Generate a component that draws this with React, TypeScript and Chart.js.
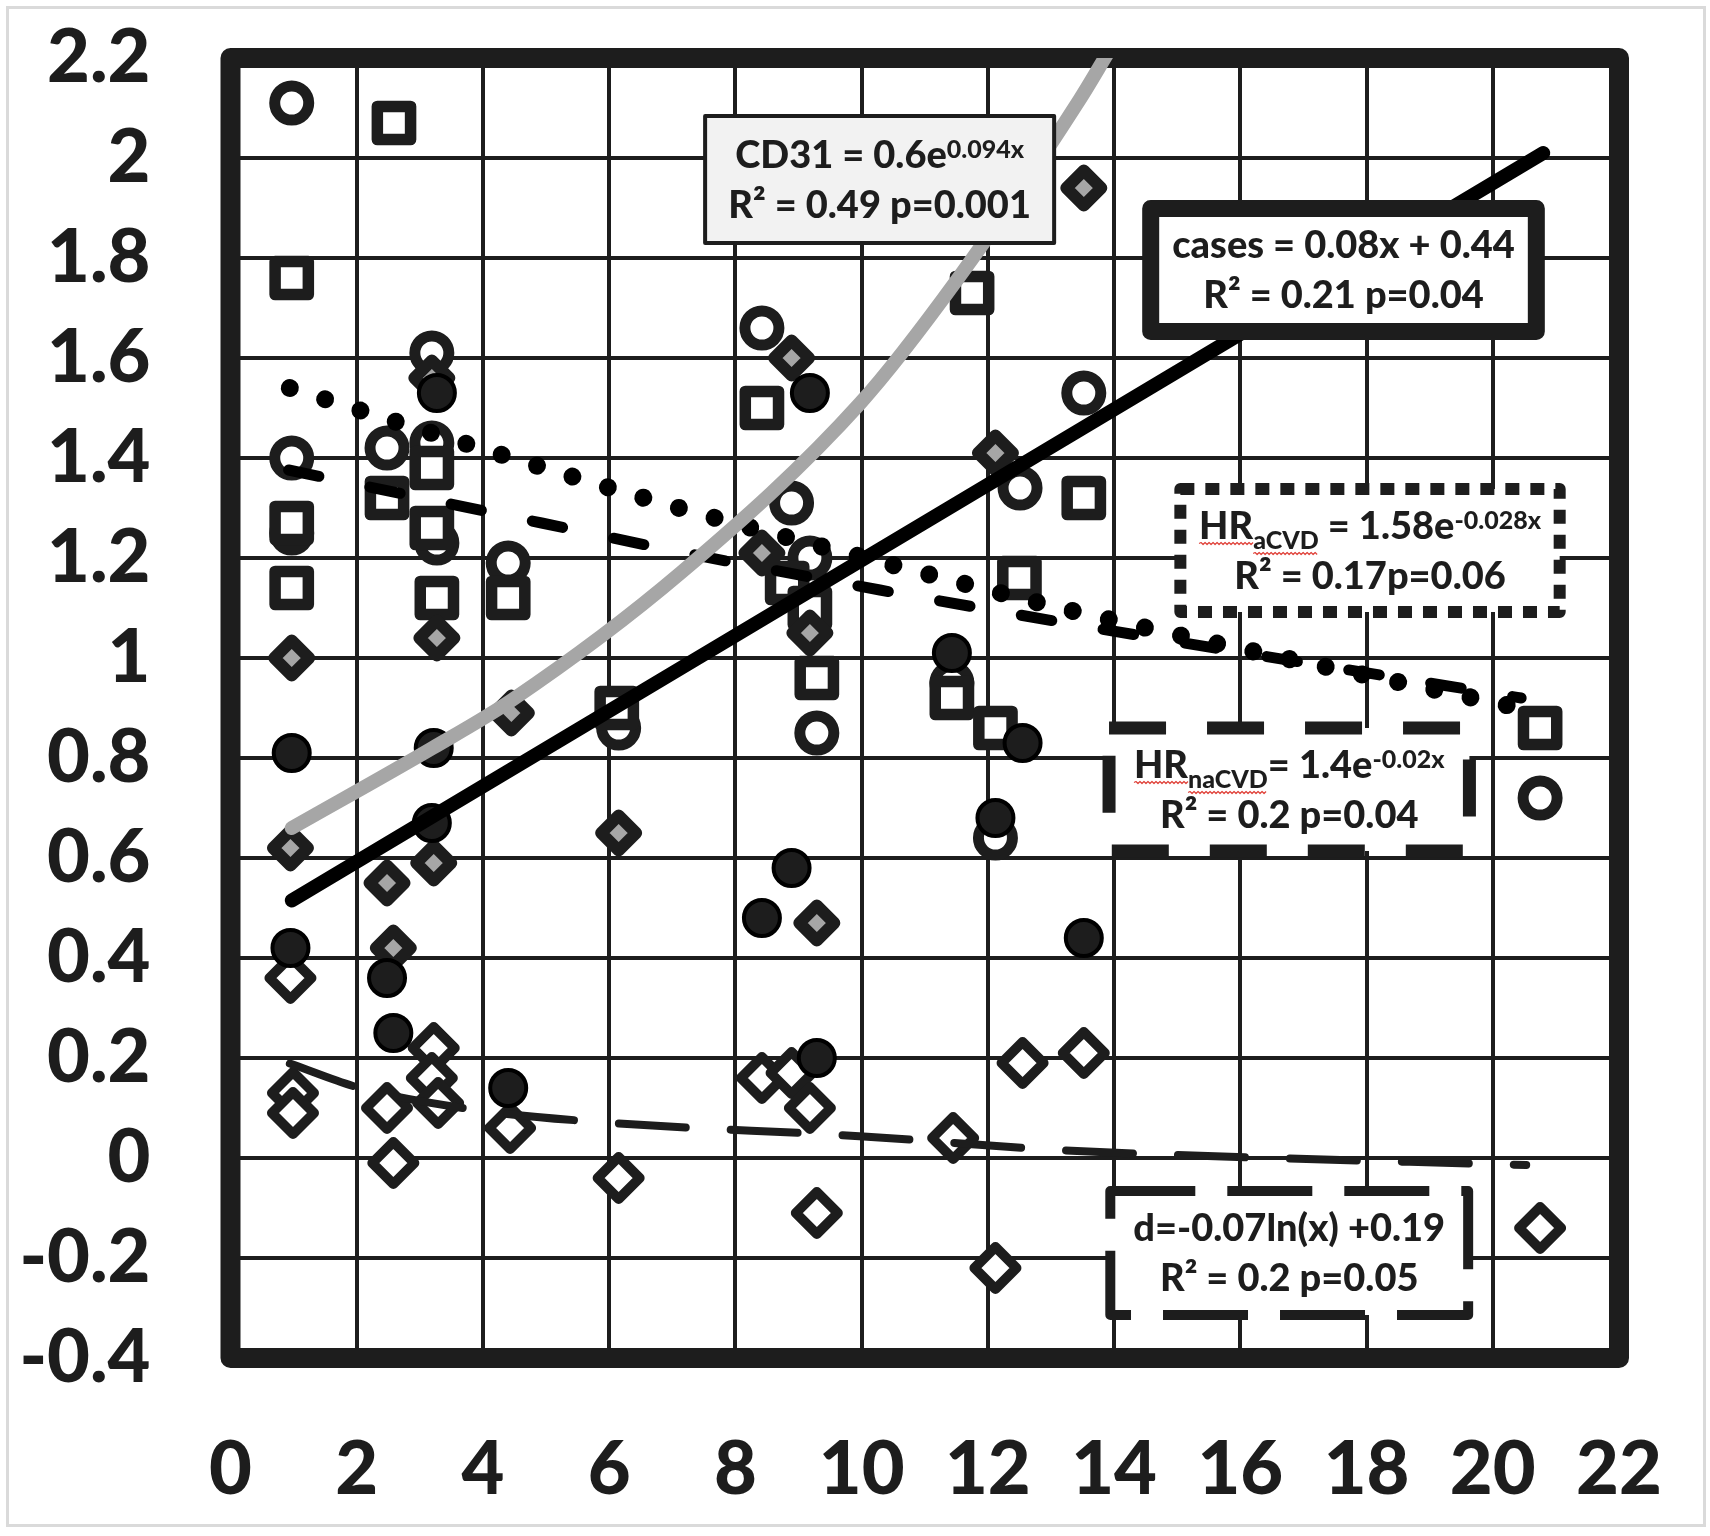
import React, { useEffect, useRef } from 'react';
import { Chart, registerables } from 'chart.js';

Chart.register(...registerables);

const INK = '#1d1d1d';
const FONT = 'Lato';

// ---- axes ----
const X_TICKS = [0, 2, 4, 6, 8, 10, 12, 14, 16, 18, 20, 22];
const X_TICK_LABELS = ['0', '2', '4', '6', '8', '10', '12', '14', '16', '18', '20', '22'];
const Y_TICKS = [-0.4, -0.2, 0, 0.2, 0.4, 0.6, 0.8, 1, 1.2, 1.4, 1.6, 1.8, 2, 2.2];
const Y_TICK_LABELS = ['-0.4', '-0.2', '0', '0.2', '0.4', '0.6', '0.8', '1', '1.2', '1.4', '1.6', '1.8', '2', '2.2'];

// ---- marker series ----
const OPEN_CIRCLE_X = [0.97, 0.97, 0.97, 2.48, 3.19, 3.19, 3.27, 4.4, 6.15, 8.42, 8.89, 9.18, 9.29, 11.43, 12.12, 12.51, 13.52, 20.75];
const OPEN_CIRCLE_Y = [2.11, 1.4, 1.25, 1.42, 1.61, 1.43, 1.23, 1.19, 0.86, 1.66, 1.31, 1.2, 0.85, 0.95, 0.64, 1.34, 1.53, 0.72];

const SQUARE_X = [0.97, 0.97, 0.97, 2.48, 2.59, 3.19, 3.19, 3.27, 4.4, 6.12, 8.42, 8.82, 9.18, 9.29, 11.43, 11.75, 12.12, 12.5, 13.52, 20.75];
const SQUARE_Y = [1.76, 1.27, 1.14, 1.32, 2.07, 1.38, 1.26, 1.12, 1.12, 0.9, 1.5, 1.15, 1.1, 0.96, 0.92, 1.73, 0.86, 1.16, 1.32, 0.86];

const FILLED_CIRCLE_X = [0.97, 0.95, 2.48, 2.58, 3.27, 3.22, 3.19, 4.4, 8.42, 8.89, 9.18, 9.29, 11.43, 12.12, 12.55, 13.52];
const FILLED_CIRCLE_Y = [0.81, 0.42, 0.36, 0.25, 1.53, 0.82, 0.67, 0.14, 0.48, 0.58, 1.53, 0.2, 1.01, 0.68, 0.83, 0.44];

const GRAY_DIAMOND_X = [0.97, 0.95, 2.48, 2.58, 3.19, 3.27, 3.22, 4.45, 6.15, 8.42, 8.89, 9.18, 9.29, 12.12, 13.52];
const GRAY_DIAMOND_Y = [1.0, 0.62, 0.55, 0.42, 1.56, 1.04, 0.59, 0.89, 0.65, 1.21, 1.6, 1.05, 0.47, 1.41, 1.94];

const OPEN_DIAMOND_X = [0.95, 0.99, 0.99, 2.48, 2.58, 3.22, 3.19, 3.29, 4.43, 6.15, 8.42, 8.89, 9.18, 9.29, 11.45, 12.12, 12.55, 13.52, 20.75];
const OPEN_DIAMOND_Y = [0.36, 0.13, 0.09, 0.1, -0.01, 0.22, 0.16, 0.11, 0.06, -0.04, 0.16, 0.17, 0.1, -0.11, 0.04, -0.22, 0.19, 0.21, -0.14];

// ---- trend lines ----
const CD31_TREND_X = [0.97, 3.2, 4.46, 7.13, 9.98, 11.51, 13.45, 13.9];
const CD31_TREND_Y = [0.66, 0.82, 0.916, 1.17, 1.51, 1.756, 2.116, 2.21];

const CASES_TREND_X = [0.97, 20.8];
const CASES_TREND_Y = [0.515, 2.01];

const ACVD_TREND_X = [0.94, 3.29, 6.83, 10.98, 13.38, 20.58];
const ACVD_TREND_Y = [1.54, 1.446, 1.31, 1.17, 1.093, 0.896];

const NACVD_TREND_X = [0.92, 4.93, 6.97, 10.29, 13.7, 20.45];
const NACVD_TREND_Y = [1.376, 1.27, 1.216, 1.136, 1.06, 0.92];

const D_TREND_X = [0.94, 2.08, 3.9, 5.72, 10.03, 13.12, 14.99, 20.53];
const D_TREND_Y = [0.189, 0.139, 0.096, 0.073, 0.043, 0.016, 0.006, -0.014];

// ---- equation boxes ----
type Run = [string, 'n' | 'sup' | 'sub', boolean?];
const BOXES: { x1: number; x2: number; y1: number; y2: number; fill: string; lw: number; dash: number[]; lines: Run[][] }[] = [
  {
    x1: 7.52, x2: 13.05, y1: 2.084, y2: 1.83, fill: '#f2f2f2', lw: 4, dash: [],
    lines: [[['CD31 = 0.6e', 'n'], ['0.094x', 'sup']], [['R² = 0.49 p=0.001', 'n']]],
  },
  {
    x1: 14.58, x2: 20.69, y1: 1.899, y2: 1.653, fill: '#ffffff', lw: 17, dash: [],
    lines: [[['cases = 0.08x + 0.44', 'n']], [['R² = 0.21 p=0.04', 'n']]],
  },
  {
    x1: 15.05, x2: 21.06, y1: 1.338, y2: 1.092, fill: '#ffffff', lw: 12, dash: [14, 11],
    lines: [[['HR', 'n', true], ['aCVD', 'sub', true], [' = 1.58e', 'n'], ['-0.028x', 'sup']], [['R² = 0.17p=0.06', 'n']]],
  },
  {
    x1: 13.92, x2: 19.63, y1: 0.86, y2: 0.614, fill: '#ffffff', lw: 13, dash: [57, 41],
    lines: [[['HR', 'n', true], ['naCVD', 'sub', true], ['= 1.4e', 'n'], ['-0.02x', 'sup']], [['R² = 0.2 p=0.04', 'n']]],
  },
  {
    x1: 13.94, x2: 19.61, y1: -0.066, y2: -0.314, fill: '#ffffff', lw: 10, dash: [85, 32],
    lines: [[['d=-0.07ln(x) +0.19', 'n']], [['R² = 0.2 p=0.05', 'n']]],
  },
];

const zip = (xs: number[], ys: number[]) => xs.map((x, i) => ({ x, y: ys[i] }));

function drawRuns(ctx: CanvasRenderingContext2D, runs: Run[], cx: number, baseline: number) {
  const fontFor = (k: string) => (k === 'n' ? `900 38px ${FONT}` : `900 25px ${FONT}`);
  let total = 0;
  const widths = runs.map(([t, k]) => {
    ctx.font = fontFor(k);
    const w = ctx.measureText(t).width;
    total += w;
    return w;
  });
  let xPos = cx - total / 2;
  runs.forEach(([t, k, u], i) => {
    ctx.font = fontFor(k);
    const dy = k === 'sup' ? -10 : k === 'sub' ? 10 : 0;
    ctx.fillStyle = INK;
    ctx.textAlign = 'left';
    ctx.textBaseline = 'alphabetic';
    ctx.fillText(t, xPos, baseline + dy);
    if (u) {
      ctx.save();
      ctx.strokeStyle = '#e0443c';
      ctx.lineWidth = 1.2;
      ctx.setLineDash([]);
      ctx.beginPath();
      const uy = baseline + dy + 5;
      let up = true;
      ctx.moveTo(xPos, uy);
      for (let px = xPos + 2; px <= xPos + widths[i]; px += 2) {
        ctx.lineTo(px, uy + (up ? -1 : 1));
        up = !up;
      }
      ctx.stroke();
      ctx.restore();
    }
    xPos += widths[i];
  });
}

const framePlugin = {
  id: 'frame',
  beforeDatasetsDraw(chart: any) {
    const { ctx, chartArea } = chart;
    ctx.save();
    ctx.strokeStyle = INK;
    ctx.lineWidth = 20;
    ctx.lineJoin = 'round';
    ctx.strokeRect(chartArea.left, chartArea.top, chartArea.right - chartArea.left, chartArea.bottom - chartArea.top);
    ctx.restore();
  },
  beforeDatasetDraw(chart: any) {
    // rounded corners for the square / diamond markers
    chart.ctx.lineJoin = 'round';
  },
};

const boxPlugin = {
  id: 'eqBoxes',
  afterDatasetsDraw(chart: any) {
    const { ctx } = chart;
    const xs = chart.scales.x;
    const ys = chart.scales.y;
    ctx.save();
    for (const b of BOXES) {
      const left = xs.getPixelForValue(b.x1);
      const right = xs.getPixelForValue(b.x2);
      const top = ys.getPixelForValue(b.y1);
      const bottom = ys.getPixelForValue(b.y2);
      ctx.fillStyle = b.fill;
      ctx.fillRect(left, top, right - left, bottom - top);
      ctx.strokeStyle = INK;
      ctx.lineWidth = b.lw;
      ctx.lineJoin = 'round';
      ctx.lineCap = 'butt';
      ctx.setLineDash(b.dash);
      ctx.strokeRect(left, top, right - left, bottom - top);
      ctx.setLineDash([]);
      const cx = (left + right) / 2;
      const cy = (top + bottom) / 2;
      b.lines.forEach((runs, i) => {
        const baseline = cy + (i === 0 ? -25 : 25) + 13;
        drawRuns(ctx, runs, cx, baseline);
      });
    }
    ctx.restore();
  },
};

export default function App() {
  const ref = useRef<HTMLCanvasElement | null>(null);

  useEffect(() => {
    let chart: Chart | null = null;
    let cancelled = false;
    const tickFont = { family: FONT, size: 74, weight: '900' as any };

    const build = () => {
      if (cancelled || !ref.current) return;
      const scatterBase = { showLine: false };
      const lineBase = {
        showLine: true,
        pointRadius: 0,
        pointHoverRadius: 0,
        fill: false,
        cubicInterpolationMode: 'monotone' as const,
        borderCapStyle: 'round' as const,
        borderJoinStyle: 'round' as const,
        order: 0,
      };
      chart = new Chart(ref.current, {
        type: 'scatter',
        data: {
          datasets: [
            {
              ...scatterBase,
              label: 'open circles',
              data: zip(OPEN_CIRCLE_X, OPEN_CIRCLE_Y),
              pointStyle: 'circle',
              pointRadius: 17,
              pointBorderWidth: 11,
              pointBackgroundColor: '#ffffff',
              pointBorderColor: INK,
              order: 5,
            },
            {
              ...scatterBase,
              label: 'squares',
              data: zip(SQUARE_X, SQUARE_Y),
              pointStyle: 'rect',
              pointRadius: 23.5,
              pointBorderWidth: 11.5,
              pointBackgroundColor: '#ffffff',
              pointBorderColor: INK,
              order: 4,
            },
            {
              ...scatterBase,
              label: 'open diamonds',
              data: zip(OPEN_DIAMOND_X, OPEN_DIAMOND_Y),
              pointStyle: 'rectRot',
              pointRadius: 21,
              pointBorderWidth: 10,
              pointBackgroundColor: '#ffffff',
              pointBorderColor: INK,
              order: 3,
            },
            {
              ...scatterBase,
              label: 'gray diamonds',
              data: zip(GRAY_DIAMOND_X, GRAY_DIAMOND_Y),
              pointStyle: 'rectRot',
              pointRadius: 17.5,
              pointBorderWidth: 12,
              pointBackgroundColor: '#a6a6a6',
              pointBorderColor: INK,
              order: 2,
            },
            {
              ...scatterBase,
              label: 'filled circles',
              data: zip(FILLED_CIRCLE_X, FILLED_CIRCLE_Y),
              pointStyle: 'circle',
              pointRadius: 18,
              pointBorderWidth: 4,
              pointBackgroundColor: INK,
              pointBorderColor: '#000000',
              order: 1,
            },
            {
              ...lineBase,
              label: 'CD31 trend',
              data: zip(CD31_TREND_X, CD31_TREND_Y),
              borderColor: '#a6a6a6',
              borderWidth: 14,
            },
            {
              ...lineBase,
              label: 'cases trend',
              data: zip(CASES_TREND_X, CASES_TREND_Y),
              borderColor: '#000000',
              borderWidth: 14,
            },
            {
              ...lineBase,
              label: 'HRaCVD trend',
              data: zip(ACVD_TREND_X, ACVD_TREND_Y),
              borderColor: '#000000',
              borderWidth: 18,
              borderDash: [0.01, 37],
            },
            {
              ...lineBase,
              label: 'HRnaCVD trend',
              data: zip(NACVD_TREND_X, NACVD_TREND_Y),
              borderColor: '#000000',
              borderWidth: 11,
              borderDash: [31, 52],
            },
            {
              ...lineBase,
              label: 'd trend',
              data: zip(D_TREND_X, D_TREND_Y),
              borderColor: INK,
              borderWidth: 8,
              borderDash: [67, 45],
            },
          ] as any,
        },
        options: {
          responsive: false,
          animation: false,
          events: [],
          layout: { autoPadding: false, padding: { top: 58, right: 91, left: 0, bottom: 0 } },
          plugins: { legend: { display: false }, tooltip: { enabled: false }, title: { display: false } },
          scales: {
            x: {
              type: 'linear',
              min: 0,
              max: 22,
              afterBuildTicks: (s: any) => {
                s.ticks = X_TICKS.map((v) => ({ value: v }));
              },
              afterFit: (s: any) => {
                s.height = 178;
                s.paddingLeft = 0;
                s.paddingRight = 0;
              },
              ticks: {
                callback: (_v: any, i: number) => X_TICK_LABELS[i],
                font: tickFont,
                color: INK,
                padding: 68,
                maxRotation: 0,
                minRotation: 0,
                autoSkip: false,
              },
              grid: { color: INK, lineWidth: 4, drawTicks: false },
              border: { display: false },
            },
            y: {
              type: 'linear',
              min: -0.4,
              max: 2.2,
              afterBuildTicks: (s: any) => {
                s.ticks = Y_TICKS.map((v) => ({ value: v }));
              },
              afterFit: (s: any) => {
                s.width = 230.5;
                s.paddingTop = 0;
                s.paddingBottom = 0;
              },
              ticks: {
                callback: (_v: any, i: number) => Y_TICK_LABELS[i],
                font: tickFont,
                color: INK,
                padding: 80,
                autoSkip: false,
              },
              grid: { color: INK, lineWidth: 4, drawTicks: false },
              border: { display: false },
            },
          },
        } as any,
        plugins: [framePlugin, boxPlugin],
      });
    };

    const fontsReady = (document as any).fonts
      ? Promise.all([
          (document as any).fonts.load(`900 74px ${FONT}`),
          (document as any).fonts.load(`900 38px ${FONT}`),
        ]).catch(() => null)
      : Promise.resolve(null);
    fontsReady.then(build);

    return () => {
      cancelled = true;
      if (chart) chart.destroy();
    };
  }, []);

  return (
    <div style={{ position: 'absolute', left: 0, top: 0, width: 1710, height: 1536, background: '#ffffff' }}>
      <div
        style={{
          position: 'absolute',
          left: 6,
          top: 6,
          width: 1700,
          height: 1521,
          boxSizing: 'border-box',
          border: '3px solid #dadada',
        }}
      />
      <canvas
        ref={ref}
        width={1710}
        height={1536}
        style={{ position: 'absolute', left: 0, top: 0, width: 1710, height: 1536 }}
      />
    </div>
  );
}
